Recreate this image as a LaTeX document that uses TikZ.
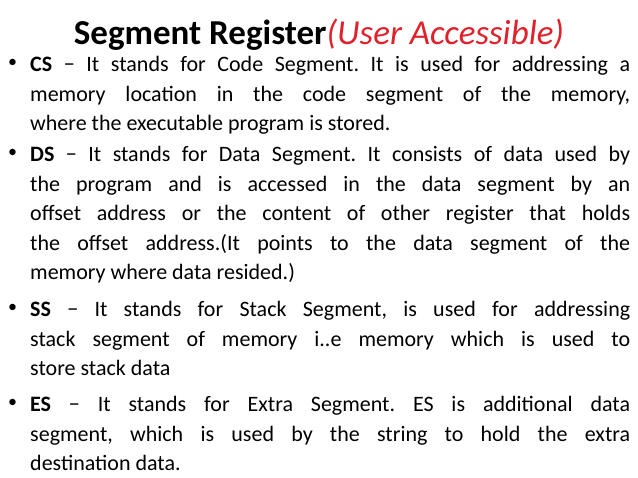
\documentclass[tikz,border=0pt]{standalone}
\usepackage{fontspec}
\setmainfont{Carlito}
\definecolor{tred}{HTML}{E0202A}
\begin{document}
\begin{tikzpicture}[x=1pt,y=-1pt,
  para/.style={anchor=north west,inner sep=0pt,text width=600pt,align=justify,font=\fontsize{22}{29.6}\selectfont\frenchspacing},
  bul/.style={anchor=north west,inner sep=0pt,font=\fontsize{18}{29.6}\selectfont}]
\useasboundingbox (0,0) rectangle (638,478);
\node[anchor=base,inner sep=0pt,font=\fontsize{35}{40}\selectfont] (title) at (319,45) {\textbf{Segment Register}\textcolor{tred}{\textit{(User Accessible)}}};
\node[para] (cs) at (30,56) {\textbf{CS} − It stands for Code Segment. It is used for addressing a\linebreak memory location in the code segment of the memory,\linebreak where the executable program is stored.\par};
\node[para] (ds) at (30,146) {\textbf{DS} − It stands for Data Segment. It consists of data used by\linebreak the program and is accessed in the data segment by an\linebreak offset address or the content of other register that holds\linebreak the offset address.(It points to the data segment of the\linebreak memory where data resided.)\par};
\node[para] (ss) at (30,301) {\textbf{SS} − It stands for Stack Segment, is used for addressing\linebreak stack segment of memory i..e memory which is used to\linebreak store stack data\par};
\node[para] (es) at (30,396) {\textbf{ES} − It stands for Extra Segment. ES is additional data\linebreak segment, which is used by the string to hold the extra\linebreak destination data.\par};
\node[bul] (b1) at (8,59) {•};
\node[bul] (b2) at (8,149) {•};
\node[bul] (b3) at (8,304) {•};
\node[bul] (b4) at (8,399) {•};
\end{tikzpicture}
\end{document}
